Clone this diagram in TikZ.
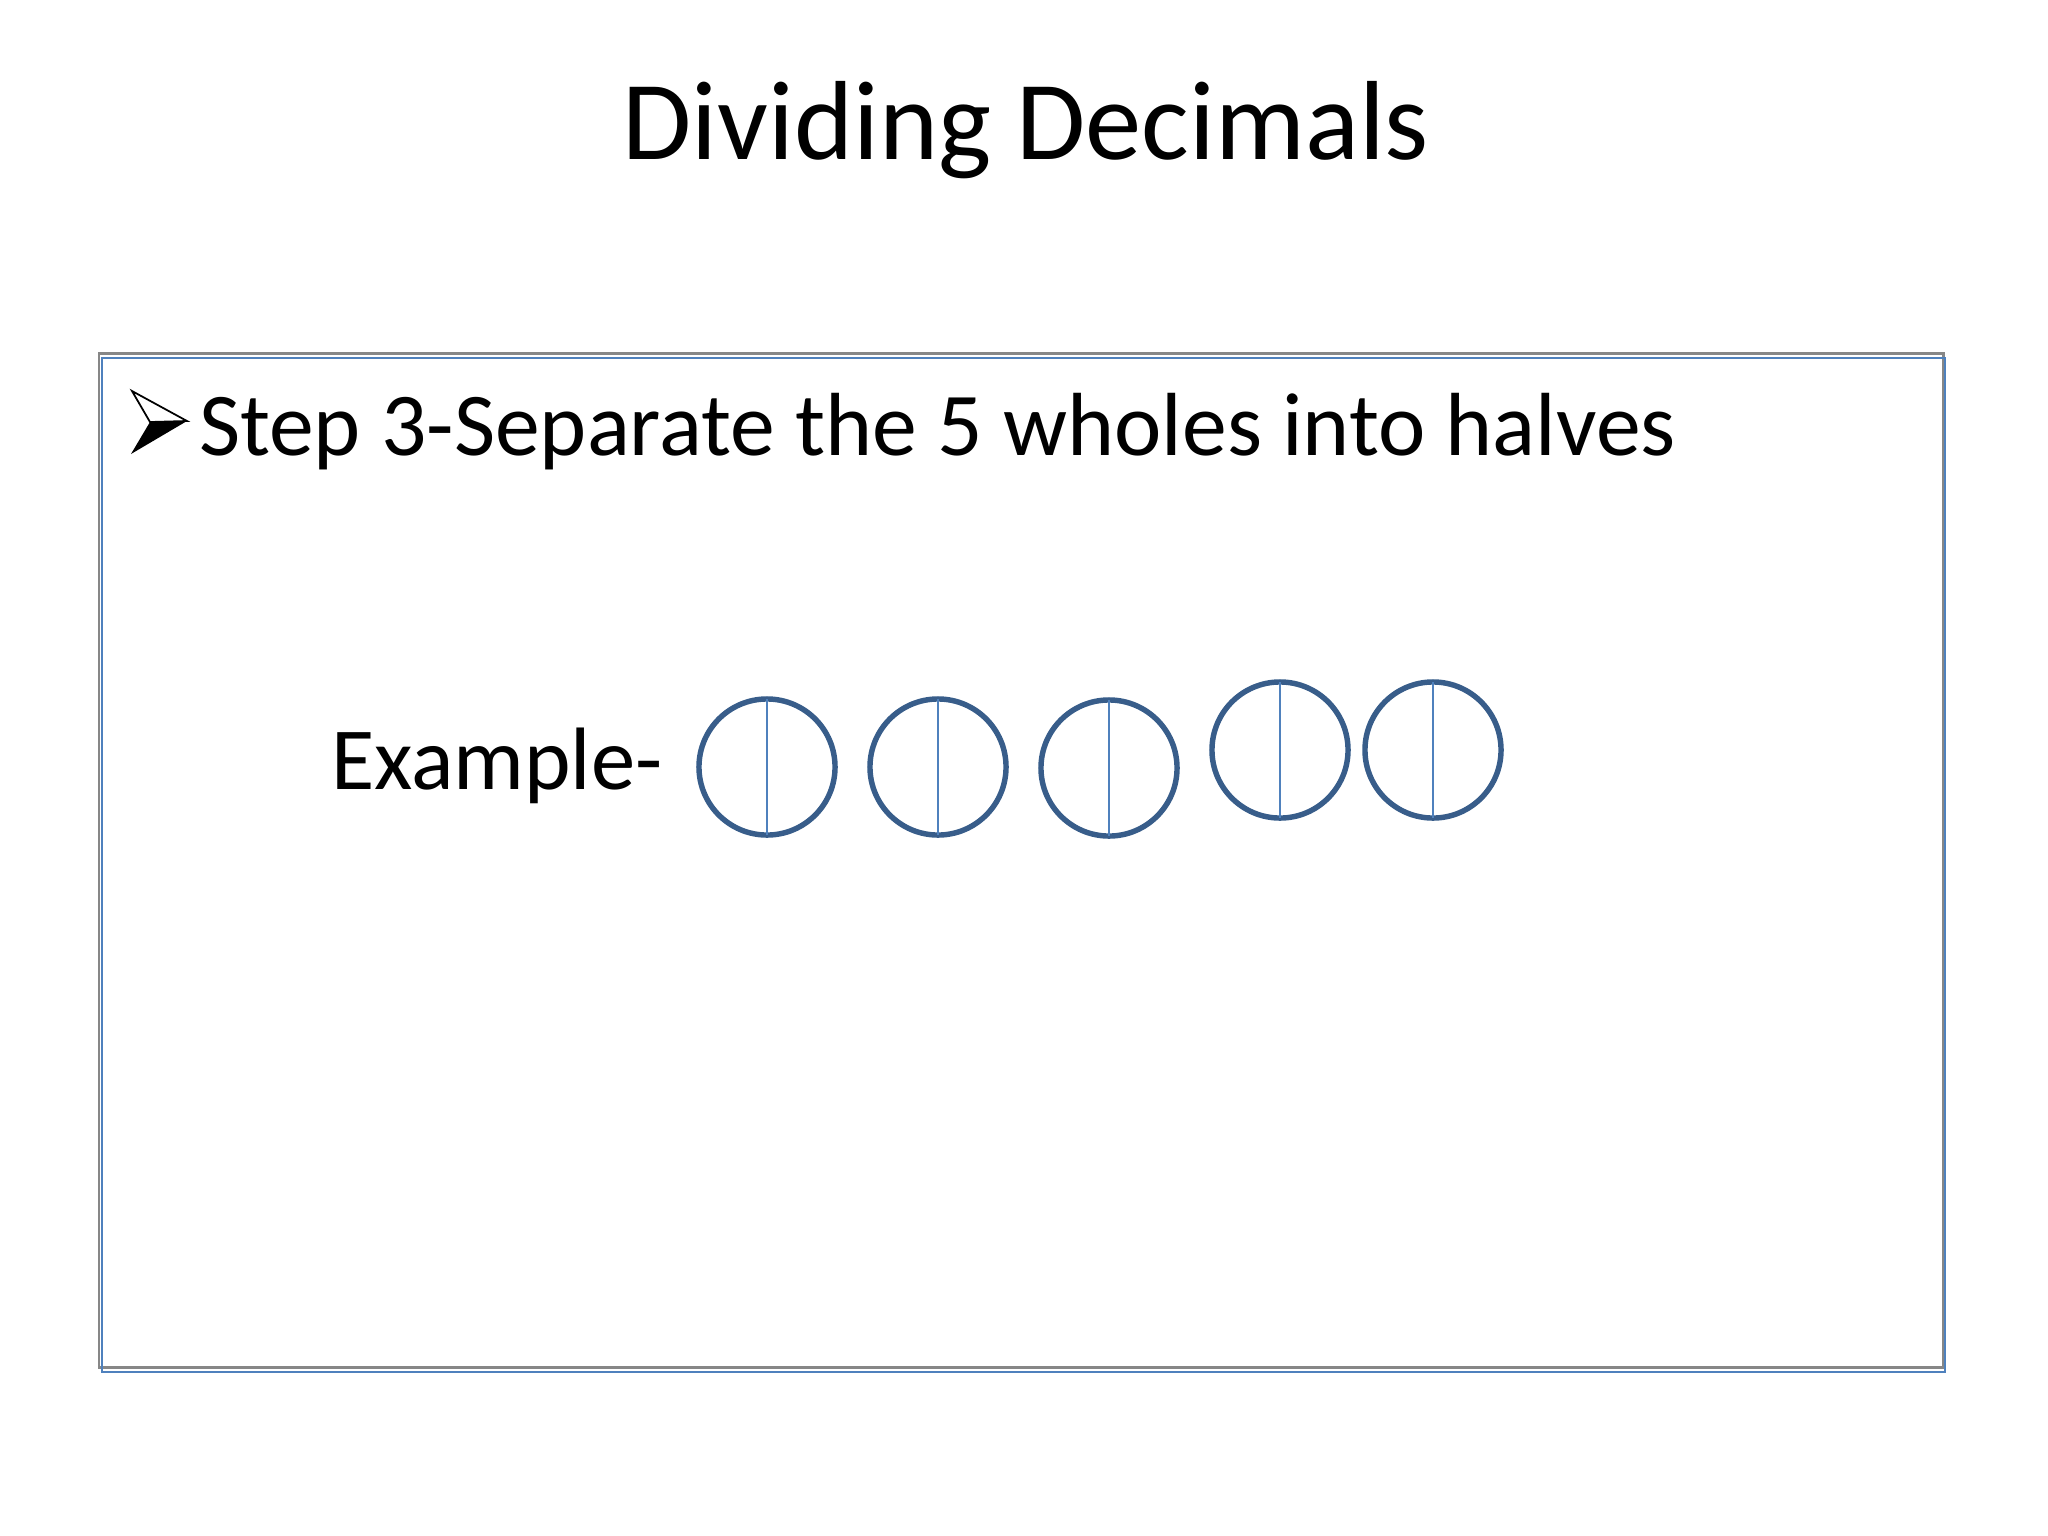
\documentclass[tikz,border=0pt]{standalone}
\usepackage{fontspec}
\setmainfont{Carlito}
\definecolor{ringblue}{RGB}{56,93,138}
\definecolor{cutblue}{RGB}{79,129,189}

\begin{document}
\begin{tikzpicture}
  [x=0.01cm, y=-0.01cm,
   every node/.style={inner sep=0pt, outer sep=0pt},
   whole/.style={circle, draw=ringblue, line width=1.55pt, minimum size=1.36cm},
   cut/.style={draw=cutblue, line width=0.55pt},
   frame/.style={draw=black!47, line width=0.85pt},
   panel/.style={draw=cutblue, line width=0.6pt}]
  \useasboundingbox (0,0) rectangle (2048,1536);
  \node [anchor=base] (title) at (1026,159) {\fontsize{32}{38}\selectfont Dividing Decimals};
  \draw [frame] (99,353) rectangle (1943,1367);
  \draw [panel] (102,358) rectangle (1945,1372);
  % bullet
  \coordinate (tipa) at (132,391);
  \coordinate (tip) at (187,421);
  \coordinate (tipb) at (131,454);
  \coordinate (notch) at (150,422);
  \draw [fill=white, line width=0.5pt, line join=miter] (tipa) -- (tip) -- (notch) -- cycle;
  \fill (notch) -- (tip) -- (tipb) -- cycle;
  \node [anchor=base west] (step) at (199,455) {\fontsize{25.5}{30}\selectfont Step 3-Separate the 5 wholes into halves};
  \node [anchor=base west] (example) at (331,789) {\fontsize{25.2}{30}\selectfont Example-};
  % the five wholes
  \node [whole] (h1) at (767,767) {};
  \node [whole] (h2) at (938,767) {};
  \node [whole] (h3) at (1109,768) {};
  \node [whole] (h4) at (1280,750) {};
  \node [whole] (h5) at (1433,750) {};
  \foreach \h in {h1,h2,h3,h4,h5}
    \draw [cut] (\h.north) -- (\h.south);
\end{tikzpicture}
\end{document}
